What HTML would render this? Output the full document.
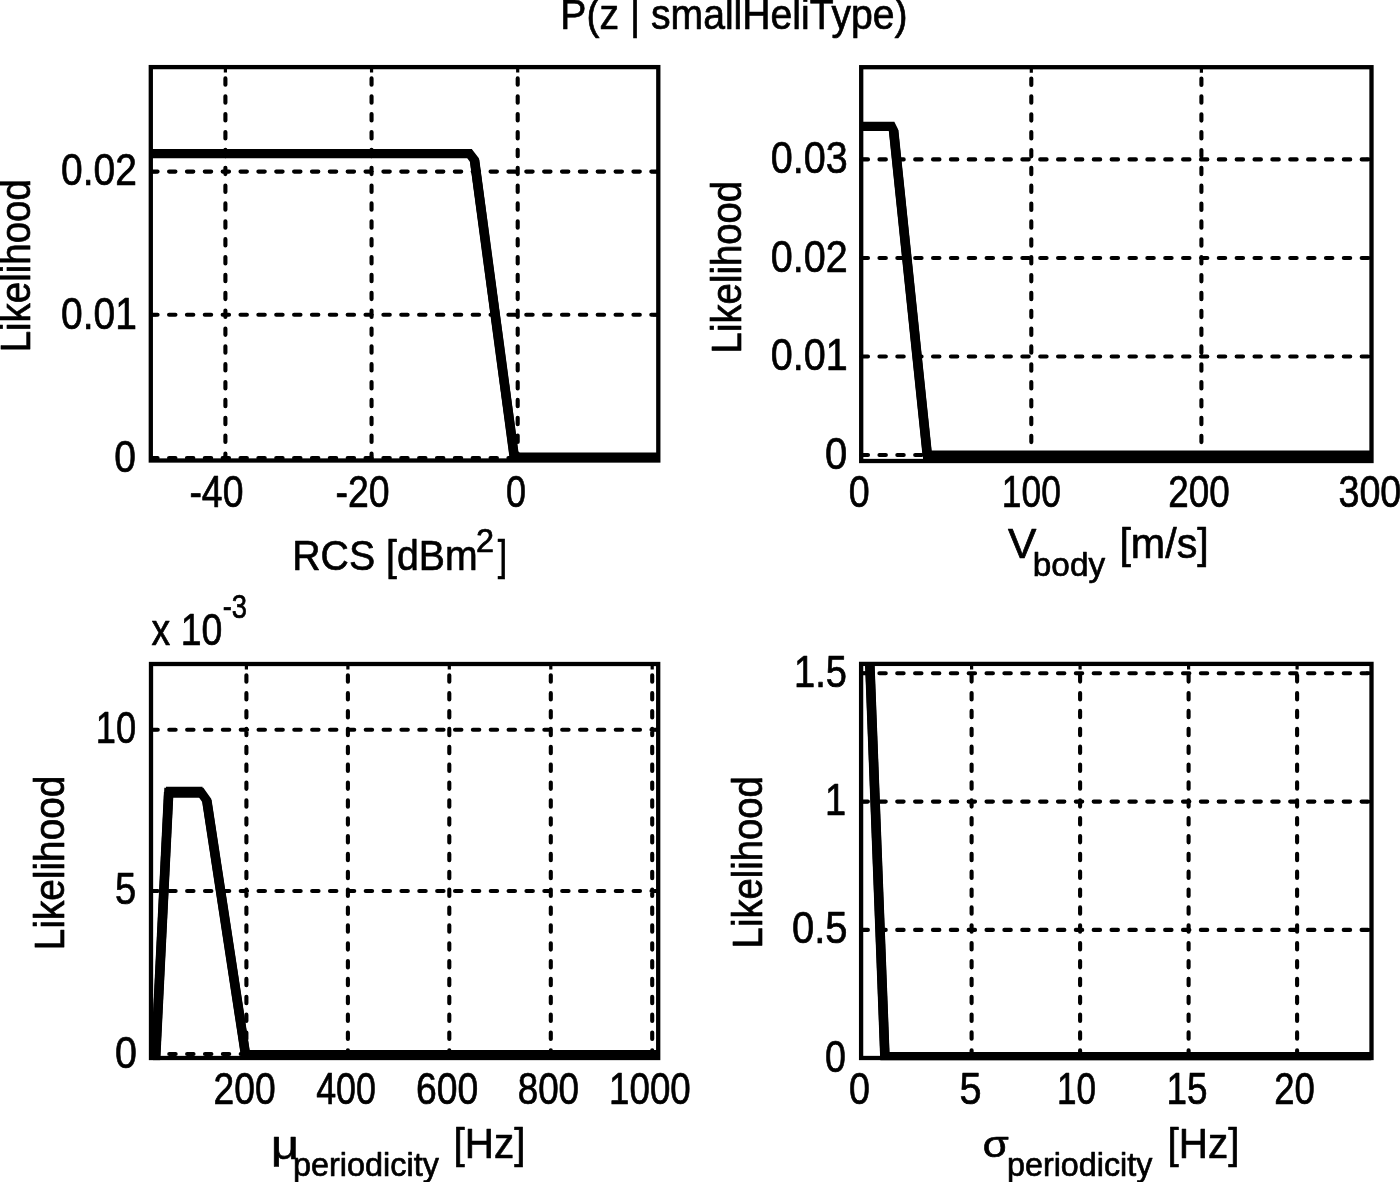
<!DOCTYPE html>
<html lang="en">
<head>
<meta charset="utf-8">
<title>P(z | smallHeliType)</title>
<style>
html,body{margin:0;padding:0;background:#fff;}
body{width:1400px;height:1182px;overflow:hidden;}
svg{display:block;}
</style>
</head>
<body>
<svg width="1400" height="1182" viewBox="0 0 1400 1182">
<rect width="1400" height="1182" fill="#fff"/>
<clipPath id="c0"><rect x="150.8" y="67.1" width="507.5" height="395.55"/></clipPath>
<path d="M225.4 78.4V460.5M371.55 78.4V460.5M517.7 78.4V460.5M151.2 171.6H658.3M151.2 314.8H658.3M151.2 458H658.3" fill="none" stroke="#000" stroke-width="4.1" stroke-dasharray="6.4 11.46" stroke-linecap="round"/>
<path d="M225.4 67.1v5.5M225.4 460.5v-5.5M371.55 67.1v5.5M371.55 460.5v-5.5M517.7 67.1v5.5M517.7 460.5v-5.5M150.8 171.6h5.5M658.3 171.6h-5.5M150.8 314.8h5.5M658.3 314.8h-5.5M150.8 458h5.5M658.3 458h-5.5" fill="none" stroke="#000" stroke-width="3.2"/>
<polyline clip-path="url(#c0)" points="150.8,153.7 469.5,153.7 474.5,160.2 514.3,457.2 658.3,457.2" fill="none" stroke="#000" stroke-width="9.2" stroke-linejoin="miter"/>
<line clip-path="url(#c0)" x1="474.5" y1="160.2" x2="514.3" y2="457.2" stroke="#000" stroke-width="9.6"/>
<rect x="150.8" y="67.1" width="507.5" height="393.4" fill="none" stroke="#000" stroke-width="4.3"/>
<clipPath id="c1"><rect x="861.2" y="67.2" width="510.3" height="395.95"/></clipPath>
<path d="M1031.3 78.5V461M1201.4 78.5V461M861.6 159.4H1371.5M861.6 258H1371.5M861.6 356.5H1371.5M861.6 455H1371.5" fill="none" stroke="#000" stroke-width="4.1" stroke-dasharray="6.4 11.46" stroke-linecap="round"/>
<path d="M1031.3 67.2v5.5M1031.3 461v-5.5M1201.4 67.2v5.5M1201.4 461v-5.5M861.2 159.4h5.5M1371.5 159.4h-5.5M861.2 258h5.5M1371.5 258h-5.5M861.2 356.5h5.5M1371.5 356.5h-5.5M861.2 455h5.5M1371.5 455h-5.5" fill="none" stroke="#000" stroke-width="3.2"/>
<polyline clip-path="url(#c1)" points="861.2,126.3 891.5,126.3 893.6,130.5 927.3,455 1371.5,455" fill="none" stroke="#000" stroke-width="9.2" stroke-linejoin="miter"/>
<line clip-path="url(#c1)" x1="893.6" y1="130.5" x2="927.3" y2="455" stroke="#000" stroke-width="9.6"/>
<rect x="861.2" y="67.2" width="510.3" height="393.8" fill="none" stroke="#000" stroke-width="4.3"/>
<clipPath id="c2"><rect x="151" y="664" width="507.2" height="396.15"/></clipPath>
<path d="M246.4 675.3V1058M347.9 675.3V1058M449.3 675.3V1058M550.8 675.3V1058M652.2 675.3V1058M151.4 729.7H658.2M151.4 891H658.2M151.4 1054H658.2" fill="none" stroke="#000" stroke-width="4.1" stroke-dasharray="6.4 11.46" stroke-linecap="round"/>
<path d="M246.4 664v5.5M246.4 1058v-5.5M347.9 664v5.5M347.9 1058v-5.5M449.3 664v5.5M449.3 1058v-5.5M550.8 664v5.5M550.8 1058v-5.5M652.2 664v5.5M652.2 1058v-5.5M151 729.7h5.5M658.2 729.7h-5.5M151 891h5.5M658.2 891h-5.5M151 1054h5.5M658.2 1054h-5.5" fill="none" stroke="#000" stroke-width="3.2"/>
<polyline clip-path="url(#c2)" points="153,1056 155.7,1056 168.7,792.3 201,792.3 206.8,800.5 245.5,1054.5 658.2,1054.5" fill="none" stroke="#000" stroke-width="9.2" stroke-linejoin="miter"/>
<line clip-path="url(#c2)" x1="155.7" y1="1056" x2="168.7" y2="792.3" stroke="#000" stroke-width="9.6"/>
<line clip-path="url(#c2)" x1="206.8" y1="800.5" x2="245.5" y2="1054.5" stroke="#000" stroke-width="9.6"/>
<line clip-path="url(#c2)" x1="166" y1="792.3" x2="202.5" y2="792.3" stroke="#000" stroke-width="10.9"/>
<rect x="151" y="664" width="507.2" height="394" fill="none" stroke="#000" stroke-width="4.3"/>
<clipPath id="c3"><rect x="861.1" y="663.9" width="510.4" height="396.25"/></clipPath>
<path d="M971.6 675.2V1058M1080.1 675.2V1058M1188.6 675.2V1058M1297.1 675.2V1058M861.5 673.2H1371.5M861.5 801.6H1371.5M861.5 929.9H1371.5" fill="none" stroke="#000" stroke-width="4.1" stroke-dasharray="6.4 11.46" stroke-linecap="round"/>
<path d="M971.6 663.9v5.5M971.6 1058v-5.5M1080.1 663.9v5.5M1080.1 1058v-5.5M1188.6 663.9v5.5M1188.6 1058v-5.5M1297.1 663.9v5.5M1297.1 1058v-5.5M861.1 673.2h5.5M1371.5 673.2h-5.5M861.1 801.6h5.5M1371.5 801.6h-5.5M861.1 929.9h5.5M1371.5 929.9h-5.5M861.1 1058h5.5M1371.5 1058h-5.5" fill="none" stroke="#000" stroke-width="3.2"/>
<polyline clip-path="url(#c3)" points="869.8,663.9 884.9,1056.5 1371.5,1056.5" fill="none" stroke="#000" stroke-width="9.2" stroke-linejoin="miter"/>
<line clip-path="url(#c3)" x1="869.8" y1="663.9" x2="884.9" y2="1056.5" stroke="#000" stroke-width="9.6"/>
<rect x="861.1" y="663.9" width="510.4" height="394.1" fill="none" stroke="#000" stroke-width="4.3"/>
<g font-family='"Liberation Sans", sans-serif' fill="#000" stroke="#000" stroke-width="0.7" stroke-linejoin="round">
<text font-size="43" transform="translate(560.34 28.6) scale(0.9105 1)">P(z | smallHeliType)</text>
<text font-size="43" transform="translate(61.08 185.3) scale(0.9057 1.035)">0.02</text>
<text font-size="43" transform="translate(61.08 328.5) scale(0.9057 1.035)">0.01</text>
<text font-size="43" transform="translate(114.18 471.8) scale(0.9070 1.035)">0</text>
<text font-size="43" transform="translate(189.43 507.4) scale(0.8689 1.035)">-40</text>
<text font-size="43" transform="translate(335.43 507.4) scale(0.8705 1.035)">-20</text>
<text font-size="43" transform="translate(505.98 507.4) scale(0.8372 1.035)">0</text>
<text font-size="43" transform="translate(292.23 570) scale(0.9129 1)">RCS [dBm</text>
<text font-size="33" transform="translate(475.88 552) scale(0.9826 1)">2</text>
<text font-size="43" transform="translate(497.8 570) scale(0.7867 1)">]</text>
<text font-size="43" transform="translate(770.86 172.6) scale(0.9193 1.035)">0.03</text>
<text font-size="43" transform="translate(770.86 271.6) scale(0.9193 1.035)">0.02</text>
<text font-size="43" transform="translate(770.86 370.4) scale(0.9193 1.035)">0.01</text>
<text font-size="43" transform="translate(824.95 468.6) scale(0.9302 1.035)">0</text>
<text font-size="43" transform="translate(848.83 507.4) scale(0.8744 1.035)">0</text>
<text font-size="43" transform="translate(1001.79 507.4) scale(0.8237 1.035)">100</text>
<text font-size="43" transform="translate(1168.27 507.4) scale(0.8564 1.035)">200</text>
<text font-size="43" transform="translate(1338.42 507.4) scale(0.8770 1.035)">300</text>
<text font-size="43" transform="translate(1008 558) scale(0.9899 1)">V</text>
<text font-size="33" transform="translate(1032.81 576) scale(1.0116 1)">body</text>
<text font-size="43" transform="translate(1119.42 558) scale(0.9587 1)">[m/s]</text>
<text font-size="43" transform="translate(151.6 645.1) scale(0.8703 1.035)">x 10</text>
<text font-size="33" transform="translate(222.74 618.1) scale(0.8304 1)">-3</text>
<text font-size="43" transform="translate(95.73 743.4) scale(0.8441 1.035)">10</text>
<text font-size="43" transform="translate(114.91 904.3) scale(0.8882 1.035)">5</text>
<text font-size="43" transform="translate(115.07 1068.3) scale(0.9163 1.035)">0</text>
<text font-size="43" transform="translate(213.56 1103.8) scale(0.8652 1.035)">200</text>
<text font-size="43" transform="translate(316.14 1103.8) scale(0.8328 1.035)">400</text>
<text font-size="43" transform="translate(415.95 1103.8) scale(0.8666 1.035)">600</text>
<text font-size="43" transform="translate(517.65 1103.8) scale(0.8568 1.035)">800</text>
<text font-size="43" transform="translate(609.11 1103.8) scale(0.8531 1.035)">1000</text>
<text font-size="43" transform="translate(270.97 1158.7) scale(1.1291 0.95)">μ</text>
<text font-size="33" transform="translate(292.97 1176) scale(0.9829 1)">periodicity</text>
<text font-size="43" transform="translate(453.47 1158) scale(0.9408 1)">[Hz]</text>
<text font-size="43" transform="translate(794.02 687) scale(0.8853 1.035)">1.5</text>
<text font-size="43" transform="translate(825.11 815) scale(0.8837 1.035)">1</text>
<text font-size="43" transform="translate(792.05 943.3) scale(0.9296 1.035)">0.5</text>
<text font-size="43" transform="translate(825.12 1071.5) scale(0.8744 1.035)">0</text>
<text font-size="43" transform="translate(849.12 1104.4) scale(0.8744 1.035)">0</text>
<text font-size="43" transform="translate(959.56 1104.4) scale(0.9218 1.035)">5</text>
<text font-size="43" transform="translate(1057 1104.4) scale(0.8169 1.035)">10</text>
<text font-size="43" transform="translate(1166.5 1104.4) scale(0.8572 1.035)">15</text>
<text font-size="43" transform="translate(1274.29 1104.4) scale(0.8493 1.035)">20</text>
<text font-size="43" transform="translate(982.68 1157.42) scale(0.9815 0.8675)">σ</text>
<text font-size="33" transform="translate(1006.98 1176) scale(0.9788 1)">periodicity</text>
<text font-size="43" transform="translate(1167.47 1158) scale(0.9408 1)">[Hz]</text>
<text font-size="43" transform="translate(30.2 352.3) rotate(-90) scale(0.8942 1)">Likelihood</text>
<text font-size="43" transform="translate(740.6 353.4) rotate(-90) scale(0.8916 1)">Likelihood</text>
<text font-size="43" transform="translate(63.7 950.13) rotate(-90) scale(0.9011 1)">Likelihood</text>
<text font-size="43" transform="translate(761.5 948.39) rotate(-90) scale(0.8900 1)">Likelihood</text>
</g>
</svg>
</body>
</html>
